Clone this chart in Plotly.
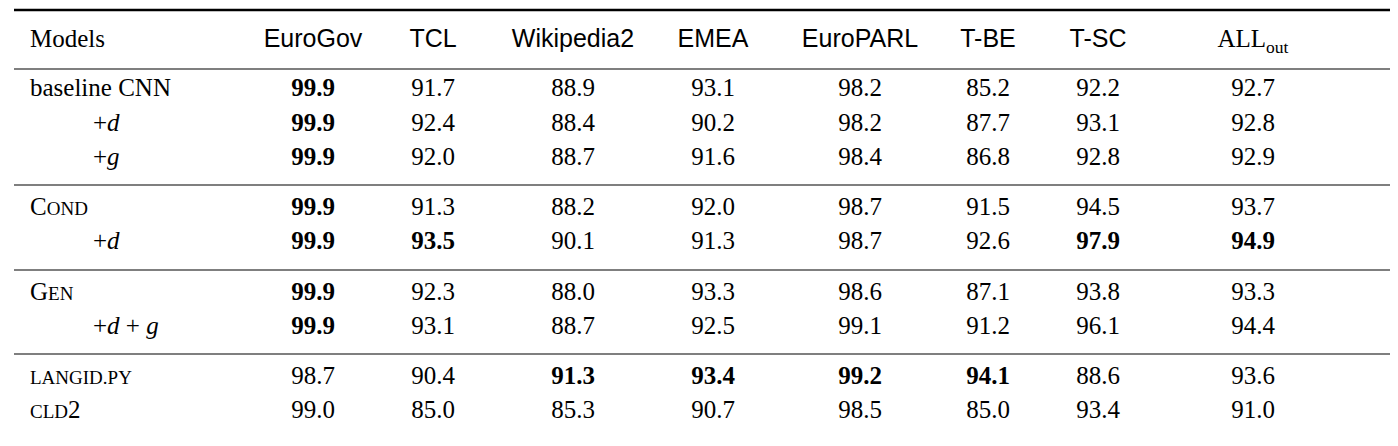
import plotly.graph_objects as go

columns = ["EuroGov", "TCL", "Wikipedia2", "EMEA", "EuroPARL", "T-BE", "T-SC", "ALL<sub>out</sub>"]
models = ["baseline CNN", "+<i>d</i>", "+<i>g</i>",
          "C<span style='font-size:19px'>OND</span>", "+<i>d</i>",
          "G<span style='font-size:19px'>EN</span>", "+<i>d</i> + <i>g</i>",
          "<span style='font-size:19px'>LANGID.PY</span>", "<span style='font-size:19px'>CLD</span>2"]
indented = [False, True, True, False, True, False, True, False, False]
scores = [
    [99.9, 91.7, 88.9, 93.1, 98.2, 85.2, 92.2, 92.7],
    [99.9, 92.4, 88.4, 90.2, 98.2, 87.7, 93.1, 92.8],
    [99.9, 92.0, 88.7, 91.6, 98.4, 86.8, 92.8, 92.9],
    [99.9, 91.3, 88.2, 92.0, 98.7, 91.5, 94.5, 93.7],
    [99.9, 93.5, 90.1, 91.3, 98.7, 92.6, 97.9, 94.9],
    [99.9, 92.3, 88.0, 93.3, 98.6, 87.1, 93.8, 93.3],
    [99.9, 93.1, 88.7, 92.5, 99.1, 91.2, 96.1, 94.4],
    [98.7, 90.4, 91.3, 93.4, 99.2, 94.1, 88.6, 93.6],
    [99.0, 85.0, 85.3, 90.7, 98.5, 85.0, 93.4, 91.0],
]

# layout (pixel-like coordinates on hidden axes)
col_x = [305, 425, 565, 705, 852, 980, 1090, 1245]
row_y = [82, 117, 151, 201, 235, 286, 320, 370, 404]
header_y = 33
rules = [(2, 2.5), (61, 1.2), (177, 1.2), (262, 1.2), (346, 1.2), (440, 2.5)]

serif = "Liberation Serif, DejaVu Serif, serif"
sans = "Liberation Sans, Arial, sans-serif"
size = 25

fig = go.Figure()

# header
fig.add_trace(go.Scatter(x=[22], y=[header_y], mode="text", text=["Models"],
                         textposition="middle right",
                         textfont=dict(family=serif, size=size, color="black")))
fig.add_trace(go.Scatter(x=col_x[:-1], y=[header_y] * 7, mode="text", text=columns[:-1],
                         textfont=dict(family=sans, size=size, color="black")))
fig.add_trace(go.Scatter(x=col_x[-1:], y=[header_y], mode="text", text=columns[-1:],
                         textfont=dict(family=serif, size=size, color="black")))

# model names
fig.add_trace(go.Scatter(x=[85 if ind else 22 for ind in indented], y=row_y, mode="text",
                         text=models, textposition="middle right",
                         textfont=dict(family=serif, size=size, color="black")))

# values, best per column in bold
for j, x in enumerate(col_x):
    col = [r[j] for r in scores]
    best = max(col)
    txt = [f"<b>{v:.1f}</b>" if v == best else f"{v:.1f}" for v in col]
    fig.add_trace(go.Scatter(x=[x] * len(col), y=row_y, mode="text", text=txt,
                             textfont=dict(family=serif, size=size, color="black")))

for y, w in rules:
    fig.add_shape(type="line", x0=6, x1=1392, y0=y, y1=y, xref="x", yref="y",
                  line=dict(color="black", width=w))

fig.update_layout(
    width=1398, height=446, showlegend=False,
    margin=dict(l=0, r=0, t=0, b=0),
    paper_bgcolor="white", plot_bgcolor="white",
    xaxis=dict(range=[0, 1398], visible=False, fixedrange=True),
    yaxis=dict(range=[446, 0], visible=False, fixedrange=True),
)
fig.write_html("out.html")
